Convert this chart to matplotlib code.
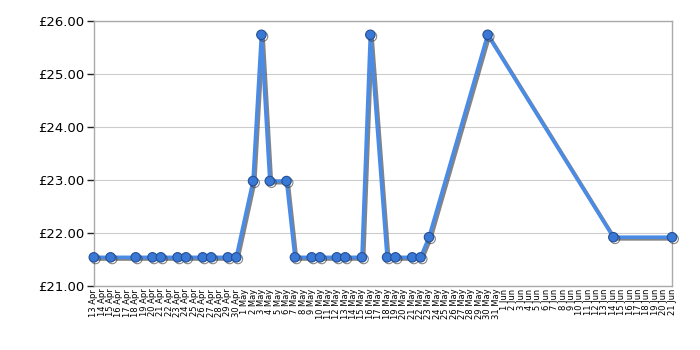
import datetime as dt
import matplotlib
matplotlib.use("Agg")
import matplotlib.pyplot as plt
import matplotlib.patheffects as pe

# Data
point_dates = ["13 Apr", "15 Apr", "18 Apr", "20 Apr", "21 Apr", "23 Apr", "24 Apr",
               "26 Apr", "27 Apr", "29 Apr", "30 Apr", "2 May", "3 May", "4 May",
               "6 May", "7 May", "9 May", "10 May", "12 May", "13 May", "15 May",
               "16 May", "18 May", "19 May", "21 May", "22 May", "23 May", "30 May",
               "14 Jun", "21 Jun"]
prices = [21.54, 21.54, 21.54, 21.54, 21.54, 21.54, 21.54,
          21.54, 21.54, 21.54, 21.54, 22.98, 25.74, 22.98,
          22.98, 21.54, 21.54, 21.54, 21.54, 21.54, 21.54,
          25.74, 21.54, 21.54, 21.54, 21.54, 21.92, 25.74,
          21.92, 21.92]
y_ticks = [21, 22, 23, 24, 25, 26]
y_labels = ["£21.00", "£22.00", "£23.00", "£24.00", "£25.00", "£26.00"]

start = dt.date(2024, 4, 13)
n_days = 70
day_labels = [(start + dt.timedelta(days=i)).strftime("%-d %b") for i in range(n_days)]
x = [day_labels.index(d) for d in point_dates]

fig = plt.figure(figsize=(7, 3.5), dpi=100)
ax = fig.add_axes([0.134, 0.183, 0.826, 0.757])

line, = ax.plot(x, prices, color="#4a8be6", lw=2.6, marker="o", ms=6.8,
                mfc="#3a78d6", mec="#234f96", mew=0.8, clip_on=False, zorder=3)
line.set_path_effects([pe.SimpleLineShadow(offset=(1.2, -1.2), shadow_color="#333333", alpha=0.6),
                       pe.Normal()])

ax.set_xlim(0, n_days - 1)
ax.set_ylim(21, 26)
ax.set_yticks(y_ticks)
ax.set_yticklabels(y_labels, fontsize=9.5)
ax.tick_params(axis="y", length=5, width=1, color="#222222", pad=2)

ax.set_xticks(range(n_days))
ax.set_xticklabels(day_labels, rotation=90, fontsize=6)
ax.tick_params(axis="x", which="major", length=0, pad=2)
ax.set_xticks(list(range(8, n_days, 14)), minor=True)
ax.tick_params(axis="x", which="minor", length=5, width=1, color="#222222")

ax.grid(axis="y", which="major", color="#cccccc", lw=0.8)
ax.grid(axis="x", which="minor", color="#cccccc", lw=0.8)
ax.set_axisbelow(True)
for s in ax.spines.values():
    s.set_color("#aaaaaa")
    s.set_linewidth(1)

fig.savefig("out.png", dpi=100)
